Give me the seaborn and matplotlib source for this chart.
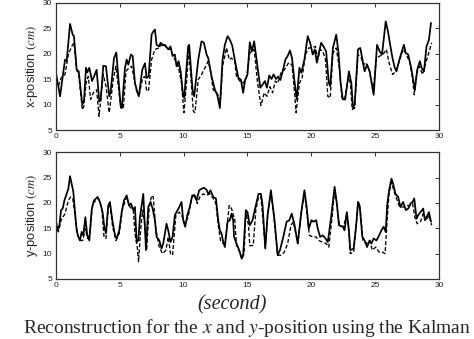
import numpy as np
import pandas as pd
import matplotlib
matplotlib.use("Agg")
import matplotlib.pyplot as plt
import seaborn as sns

# ---- x-position: estimate (solid) and measured (dashed) ----
x_est_t = [0, 0.34, 0.73, 0.86, 1.12, 1.33, 1.43, 1.64, 1.8, 2.08, 2.21, 2.37, 2.47, 2.63, 2.84, 3.0, 3.2, 3.41, 3.52, 3.72,
           3.93, 4.19, 4.3, 4.56, 4.74, 5.08, 5.18, 5.42, 5.55, 5.68, 5.88, 6.02, 6.2, 6.4, 6.5, 6.77, 6.98, 7.11, 7.27, 7.5,
           7.63, 7.76, 7.89, 8.1, 8.2, 8.36, 8.54, 8.8, 8.98, 9.14, 9.32, 9.45, 9.61, 9.77, 9.97, 10.05, 10.36, 10.44, 10.7, 10.83,
           11.15, 11.4, 11.59, 11.8, 11.93, 12.19, 12.45, 12.63, 12.71, 12.84, 13.05, 13.23, 13.44, 13.62, 13.8, 14.08, 14.29, 14.48, 14.66, 14.82,
           15.0, 15.18, 15.34, 15.52, 15.71, 16.0, 16.18, 16.36, 16.52, 16.7, 16.88, 17.04, 17.23, 17.41, 17.57, 17.75, 17.96, 18.14, 18.32, 18.48,
           18.66, 18.85, 19.06, 19.21, 19.45, 19.71, 19.9, 20.1, 20.26, 20.42, 20.58, 20.76, 20.94, 21.15, 21.36, 21.47, 21.68, 21.94, 22.12, 22.28,
           22.46, 22.64, 22.93, 23.12, 23.25, 23.38, 23.64, 23.82, 24.03, 24.16, 24.35, 24.55, 24.76, 24.87, 25.13, 25.34, 25.52, 25.81, 25.99, 26.13,
           26.34, 26.52, 26.65, 26.91, 27.23, 27.38, 27.57, 27.83, 27.96, 28.09, 28.27, 28.48, 28.61, 28.8, 29.0, 29.19, 29.35]
x_est = [16.5, 11.6, 18.8, 18.5, 25.8, 23.7, 23.4, 16.8, 16.5, 10.0, 10.6, 17.2, 16.3, 17.2, 14.6, 15.5, 16.8, 10.6, 10.9, 17.6,
         17.5, 11.6, 12.6, 19.1, 20.2, 9.7, 9.3, 17.2, 18.8, 17.8, 19.8, 19.5, 14.2, 12.3, 11.6, 16.8, 18.1, 15.2, 15.5, 23.7,
         24.3, 24.7, 21.7, 21.4, 22.1, 21.6, 21.7, 20.8, 21.4, 19.5, 19.8, 17.5, 18.5, 16.5, 11.6, 11.3, 21.4, 21.7, 12.9, 11.6,
         18.8, 22.4, 22.1, 19.8, 19.1, 15.5, 12.9, 11.9, 11.0, 9.3, 18.8, 21.7, 23.4, 22.7, 21.6, 17.8, 15.2, 14.9, 12.3, 14.9,
         15.9, 22.2, 20.4, 22.4, 18.8, 13.3, 13.9, 14.6, 13.3, 15.7, 15.0, 15.9, 15.0, 15.5, 14.8, 16.5, 18.8, 19.5, 20.6, 19.1,
         14.9, 11.0, 17.2, 16.2, 18.8, 23.4, 22.1, 19.8, 20.8, 18.2, 20.1, 22.1, 21.4, 20.4, 14.2, 13.6, 21.1, 23.7, 20.1, 14.2,
         11.0, 11.0, 16.5, 14.2, 9.3, 10.0, 20.8, 21.1, 18.2, 16.5, 17.8, 16.5, 13.6, 11.9, 21.7, 20.4, 19.8, 26.3, 24.3, 22.1,
         19.1, 17.2, 16.5, 19.1, 21.7, 20.1, 19.8, 16.8, 14.9, 12.9, 16.8, 18.5, 17.2, 16.5, 21.4, 22.7, 26.0]

x_meas_t = [0, 0.21, 0.42, 0.73, 0.99, 1.25, 1.43, 1.64, 1.8, 2.08, 2.21, 2.37, 2.55, 2.73, 2.94, 3.2, 3.39, 3.72, 3.93, 4.19,
            4.5, 4.71, 4.87, 5.1, 5.29, 5.5, 5.73, 5.94, 6.12, 6.33, 6.54, 6.8, 6.98, 7.11, 7.27, 7.5, 7.76, 8.1, 8.36, 8.67,
            8.98, 9.32, 9.58, 9.84, 10.03, 10.23, 10.39, 10.55, 10.76, 10.89, 11.15, 11.41, 11.67, 11.93, 12.11, 12.32, 12.58, 12.76, 12.89, 13.05,
            13.36, 13.57, 13.75, 14.0, 14.14, 14.4, 14.66, 14.92, 15.18, 15.52, 15.79, 16.05, 16.31, 16.52, 16.75, 16.96, 17.17, 17.36, 17.62, 17.88,
            18.22, 18.48, 18.66, 18.8, 19.06, 19.27, 19.53, 19.79, 20.05, 20.31, 20.5, 20.68, 20.89, 21.1, 21.28, 21.47, 21.68, 21.94, 22.2, 22.38,
            22.59, 22.93, 23.06, 23.19, 23.38, 23.64, 23.9, 24.08, 24.29, 24.55, 24.82, 25.08, 25.34, 25.6, 25.86, 26.07, 26.34, 26.6, 26.91, 27.17,
            27.43, 27.7, 27.91, 28.04, 28.22, 28.43, 28.69, 28.95, 29.21, 29.4]
x_meas = [14.6, 13.6, 15.2, 15.9, 19.8, 21.4, 22.1, 16.8, 15.9, 9.0, 9.7, 14.2, 15.5, 11.0, 12.3, 12.9, 7.7, 15.9, 13.6, 8.4,
          14.9, 17.5, 14.2, 9.3, 9.3, 16.5, 17.2, 17.5, 15.2, 12.6, 12.0, 15.2, 15.5, 12.6, 12.9, 18.8, 20.8, 21.1, 22.1, 21.1,
          20.8, 18.8, 17.5, 14.2, 8.4, 14.2, 20.4, 16.2, 8.7, 8.4, 14.9, 15.9, 17.2, 18.5, 16.5, 12.9, 12.3, 11.6, 11.0, 17.5,
          21.1, 18.8, 19.1, 18.5, 15.5, 14.6, 14.2, 15.2, 20.1, 20.8, 14.2, 9.8, 12.3, 11.6, 13.5, 12.3, 14.6, 14.2, 16.2, 16.8,
          18.2, 17.8, 12.9, 8.4, 14.2, 15.2, 19.8, 21.1, 21.1, 21.4, 18.8, 20.8, 20.4, 18.8, 11.6, 11.3, 20.1, 21.1, 16.8, 11.3,
          11.0, 15.9, 13.6, 9.0, 9.3, 19.8, 19.1, 17.8, 18.2, 16.5, 12.3, 19.1, 19.5, 19.8, 20.8, 18.2, 15.9, 16.5, 18.8, 20.8,
          19.8, 18.2, 14.9, 11.9, 15.9, 17.5, 15.9, 18.2, 20.4, 22.1]

# ---- y-position: estimate (solid) and measured (dashed) ----
y_est_t = [0, 0.13, 0.29, 0.42, 0.55, 0.68, 0.86, 0.99, 1.12, 1.25, 1.38, 1.51, 1.64, 1.77, 1.9, 2.03, 2.16, 2.32, 2.47, 2.63,
           2.81, 2.99, 3.15, 3.28, 3.46, 3.67, 3.8, 3.93, 4.11, 4.24, 4.43, 4.64, 4.77, 4.97, 5.16, 5.34, 5.55, 5.73, 5.89, 6.07,
           6.2, 6.33, 6.46, 6.59, 6.85, 7.06, 7.24, 7.42, 7.58, 7.76, 7.89, 8.1, 8.28, 8.41, 8.67, 8.8, 8.98, 9.14, 9.32, 9.45,
           9.66, 9.84, 9.97, 10.13, 10.29, 10.49, 10.68, 10.83, 11.02, 11.22, 11.41, 11.59, 11.8, 11.93, 12.11, 12.32, 12.53, 12.71, 12.84, 12.97,
           13.1, 13.23, 13.44, 13.62, 13.75, 13.88, 13.95, 14.14, 14.35, 14.55, 14.66, 14.87, 15.0, 15.18, 15.39, 15.65, 15.86, 16.05, 16.18, 16.39,
           16.57, 16.83, 17.09, 17.36, 17.54, 17.8, 18.06, 18.27, 18.46, 18.66, 18.93, 19.19, 19.45, 19.63, 19.79, 20.0, 20.16, 20.37, 20.5, 20.68,
           20.89, 21.1, 21.28, 21.54, 21.81, 21.99, 22.15, 22.46, 22.59, 22.77, 22.93, 23.04, 23.3, 23.51, 23.64, 23.77, 23.98, 24.16, 24.35, 24.55,
           24.69, 24.87, 25.08, 25.29, 25.47, 25.65, 25.81, 25.92, 26.07, 26.26, 26.39, 26.57, 26.78, 26.96, 27.17, 27.38, 27.57, 27.75, 27.91, 28.04,
           28.22, 28.35, 28.53, 28.74, 28.87, 29.0, 29.19, 29.35]
y_est = [16.9, 14.6, 15.6, 18.6, 18.9, 20.5, 21.8, 22.8, 25.3, 23.8, 22.2, 18.2, 14.6, 13.3, 12.6, 14.3, 13.6, 17.2, 13.6, 12.6,
         18.6, 20.5, 20.9, 21.2, 20.2, 18.2, 15.3, 14.0, 19.5, 20.2, 16.6, 13.6, 13.0, 14.6, 18.2, 20.5, 21.5, 19.5, 19.9, 18.6,
         19.2, 12.3, 12.6, 17.2, 21.8, 10.7, 19.2, 20.2, 18.9, 16.6, 13.3, 12.6, 11.0, 12.0, 15.9, 14.6, 12.3, 13.3, 17.6, 18.2,
         19.2, 20.2, 16.6, 15.3, 17.6, 19.2, 21.5, 21.5, 20.5, 22.5, 22.8, 23.0, 22.6, 21.8, 22.5, 21.2, 20.9, 16.6, 14.6, 14.0,
         12.3, 11.3, 16.3, 16.6, 17.9, 16.6, 13.3, 12.0, 10.7, 9.0, 9.7, 18.6, 18.2, 15.6, 16.6, 19.5, 21.8, 21.8, 19.5, 11.0,
         17.6, 22.5, 17.2, 9.7, 10.7, 13.3, 16.3, 16.6, 17.9, 15.9, 12.0, 17.9, 22.5, 19.2, 14.9, 16.6, 16.3, 16.6, 14.9, 13.3,
         13.6, 13.0, 12.3, 17.2, 23.2, 19.9, 15.6, 15.3, 14.6, 18.2, 14.6, 10.7, 11.0, 15.9, 20.2, 19.5, 13.3, 12.6, 11.3, 12.6,
         12.0, 13.0, 12.6, 13.6, 14.6, 15.3, 14.3, 19.5, 22.5, 24.8, 23.8, 21.8, 21.2, 19.2, 20.2, 18.6, 18.9, 19.9, 20.2, 20.9,
         16.9, 17.6, 18.2, 18.9, 16.6, 17.2, 18.2, 16.3]

y_meas_t = [0, 0.21, 0.42, 0.73, 0.99, 1.17, 1.33, 1.51, 1.69, 1.9, 2.11, 2.32, 2.5, 2.68, 2.89, 3.15, 3.33, 3.59, 3.78, 3.93,
            4.11, 4.24, 4.45, 4.71, 4.97, 5.23, 5.55, 5.81, 6.07, 6.2, 6.38, 6.48, 6.64, 6.8, 6.98, 7.11, 7.32, 7.5, 7.63, 7.84,
            8.1, 8.36, 8.62, 8.8, 8.98, 9.14, 9.4, 9.66, 9.92, 10.1, 10.36, 10.62, 10.88, 11.07, 11.28, 11.54, 11.8, 12.06, 12.32, 12.53,
            12.71, 12.89, 13.1, 13.31, 13.57, 13.75, 14.01, 14.14, 14.4, 14.55, 14.74, 14.87, 15.08, 15.18, 15.45, 15.65, 15.86, 16.05, 16.23, 16.39,
            16.57, 16.83, 17.09, 17.36, 17.62, 17.88, 18.14, 18.4, 18.59, 18.93, 19.19, 19.45, 19.71, 19.84, 20.1, 20.37, 20.58, 20.84, 21.15, 21.36,
            21.62, 21.83, 22.02, 22.2, 22.51, 22.77, 22.93, 23.04, 23.3, 23.51, 23.67, 23.82, 24.03, 24.29, 24.55, 24.76, 25.03, 25.29, 25.55, 25.76,
            25.92, 26.07, 26.26, 26.44, 26.65, 26.91, 27.17, 27.43, 27.7, 27.91, 28.09, 28.27, 28.53, 28.74, 29.0, 29.21, 29.4]
y_meas = [15.9, 14.3, 16.6, 17.9, 20.5, 21.2, 20.9, 17.6, 14.0, 12.6, 12.6, 14.9, 13.0, 14.3, 19.9, 20.5, 20.9, 19.2, 13.3, 13.0,
          19.2, 19.9, 15.3, 12.6, 14.0, 18.9, 21.2, 19.2, 18.6, 14.0, 11.3, 8.4, 14.6, 18.6, 15.6, 10.7, 19.2, 21.5, 21.2, 14.6,
          11.3, 10.0, 10.7, 13.3, 10.0, 9.7, 17.6, 18.2, 17.2, 15.9, 17.2, 20.9, 21.8, 19.9, 21.2, 21.8, 21.5, 21.8, 20.9, 19.9,
          15.6, 12.6, 12.0, 13.3, 19.5, 18.9, 16.6, 11.6, 10.3, 9.0, 10.0, 18.2, 15.6, 11.6, 11.6, 18.6, 21.2, 21.2, 15.9, 11.3,
          17.2, 22.2, 16.6, 9.7, 9.7, 10.3, 12.0, 15.6, 16.3, 12.0, 17.6, 22.2, 16.6, 13.6, 13.3, 13.3, 12.6, 12.3, 12.0, 11.3,
          17.2, 22.8, 18.9, 15.6, 15.3, 17.9, 14.3, 10.0, 10.3, 15.9, 20.2, 18.6, 12.6, 12.0, 12.6, 10.7, 11.3, 10.3, 10.3, 10.0,
          16.6, 21.8, 24.1, 22.5, 20.9, 19.2, 19.2, 19.5, 19.5, 19.9, 17.2, 15.9, 16.3, 17.9, 16.6, 17.6, 15.6]

x_ticks = [0, 5, 10, 15, 20, 25, 30]
y_ticks = [5, 10, 15, 20, 25, 30]

sns.set_style("white")
plt.rcParams.update({
    "font.family": ["Liberation Sans", "DejaVu Sans"],
    "mathtext.fontset": "stix",
    "xtick.direction": "in",
    "ytick.direction": "in",
    "xtick.top": True,
    "ytick.right": True,
    "xtick.major.size": 3,
    "ytick.major.size": 3,
    "xtick.major.width": 0.7,
    "ytick.major.width": 0.7,
    "xtick.major.pad": 2.5,
    "ytick.major.pad": 2.5,
    "axes.edgecolor": "#333333",
    "axes.linewidth": 0.9,
})

fig = plt.figure(figsize=(4.74, 3.39), dpi=100)
ax_top = fig.add_axes([0.1175, 0.6165, 0.8093, 0.3761])
ax_bot = fig.add_axes([0.1175, 0.1770, 0.8093, 0.3737])

panels = [
    (ax_top, x_est_t, x_est, x_meas_t, x_meas, "x-position $(cm)$"),
    (ax_bot, y_est_t, y_est, y_meas_t, y_meas, "y-position $(cm)$"),
]

for ax, te, ve, tm, vm, label in panels:
    est = pd.DataFrame({"t": te, "v": ve})
    meas = pd.DataFrame({"t": tm, "v": vm})
    sns.lineplot(data=meas, x="t", y="v", ax=ax, color="black", lw=0.95,
                 linestyle=(0, (3, 1.6)), estimator=None, sort=False)
    sns.lineplot(data=est, x="t", y="v", ax=ax, color="black", lw=1.25,
                 estimator=None, sort=False)
    ax.set_xlim(0, 30)
    ax.set_ylim(5, 30)
    ax.set_xticks(x_ticks)
    ax.set_yticks(y_ticks)
    ax.tick_params(labelsize=6, colors="#333333", labelcolor="#222222")
    ax.set_xlabel("")
    ax.set_ylabel(label, fontsize=9.3, labelpad=2)
    for s in ax.spines.values():
        s.set_visible(True)

fig.text(0.489, 0.10, "(second)", fontsize=14.5, style="italic",
         family=["Liberation Serif", "DejaVu Serif"], ha="center", va="center")
fig.text(0.049, 0.033, "Reconstruction for the $x$ and $y$-position using the Kalman",
         fontsize=14, family=["Liberation Serif", "DejaVu Serif"], ha="left", va="center")

fig.savefig("out.png", dpi=100)
